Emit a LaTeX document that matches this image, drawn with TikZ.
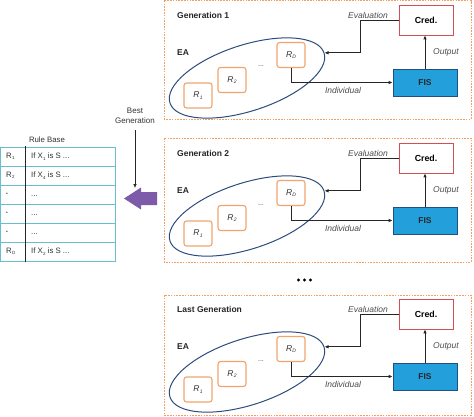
\documentclass[tikz,border=0pt]{standalone}
\usepackage{fontspec}
\setmainfont{Liberation Sans}
\usetikzlibrary{shapes.geometric,arrows.meta}
\definecolor{panelor}{RGB}{240,160,100}
\definecolor{boxor}{RGB}{240,165,110}
\definecolor{eablue}{RGB}{45,75,125}
\definecolor{credred}{RGB}{210,80,85}
\definecolor{fisblue}{RGB}{35,160,220}
\definecolor{fisborder}{RGB}{30,80,130}
\definecolor{tabteal}{RGB}{105,190,205}
\definecolor{arrpurple}{RGB}{125,90,170}
\newcommand\rsub[1]{\textit{R}\kern0.2pt\raisebox{-1.8pt}{\fontsize{5}{5}\selectfont\textit{#1}}}
\newcommand\usub[1]{\kern0.2pt\raisebox{-1.6pt}{\fontsize{4.5}{5}\selectfont #1}}
\begin{document}
\begin{tikzpicture}[x=1pt,y=1pt,
  panel/.style={draw=panelor, dash pattern=on 1.6pt off 1.2pt, line width=0.9pt},
  rbox/.style={draw=boxor, line width=1.1pt, rounded corners=2.5pt, fill=white, minimum width=28pt, minimum height=25pt, inner sep=0, font=\fontsize{8.5}{9}\selectfont, text=black!80},
  credbox/.style={draw=credred, line width=0.8pt, fill=white, minimum width=54pt, minimum height=30pt, font=\bfseries\fontsize{8.8}{10}\selectfont},
  fisbox/.style={draw=fisborder, fill=fisblue, line width=0.8pt, minimum width=64pt, minimum height=27pt, font=\bfseries\fontsize{8.5}{10}\selectfont, text=black!85},
  arr/.style={-{Latex[length=4pt,width=3.6pt]}, line width=0.9pt, draw=black!85},
  lab/.style={font=\itshape\fontsize{8.5}{9}\selectfont, text=black!70, inner sep=0},
  ttl/.style={font=\bfseries\fontsize{8.5}{10}\selectfont, anchor=west, inner sep=0, text=black!85},
  tab/.style={font=\fontsize{7.8}{9}\selectfont, anchor=west, inner sep=0, text=black!80}]
\useasboundingbox (0,0) rectangle (474,-417);
\fill[white] (0,0) rectangle (474,-417);

\foreach \b/\ya/\yb/\g in {0/0.8/119/Generation 1,138/138/262/Generation 2,294/295/415/Last Generation}{
  \draw[panel] (164,{-(\ya)}) rectangle (471,{-(\yb)});
  \node[ttl] (gen\b) at (177,{-(\b+15)}) {\g};
  \node[ttl] (ealab\b) at (177,{-(\b+53)}) {EA};
  \node[draw=eablue, line width=1pt, ellipse, minimum width=162pt, minimum height=66pt, rotate=18, inner sep=0] (ea\b) at (247,{-(\b+78)}) {};
  \node[rbox] (ra\b) at (198,{-(\b+95.5)}) {\rsub{1}};
  \node[rbox] (rb\b) at (232,{-(\b+80)}) {\rsub{2}};
  \node[rbox] (rd\b) at (291,{-(\b+55)}) {\rsub{D}};
  \node[font=\fontsize{7}{8}\selectfont, text=black!70, anchor=base] (dots\b) at (261,{-(\b+67)}) {...};
  \node[credbox] (cred\b) at (426,{-(\b+20)}) {Cred.};
  \node[fisbox] (fis\b) at (425,{-(\b+82.5)}) {FIS};
  \draw[arr] (cred\b.west) -- ++(-38,0) |- (ea\b.east);
  \draw[arr] (rd\b.south) |- (fis\b.west);
  \draw[arr] (fis\b.north) -- (fis\b.north |- cred\b.south);
  \node[lab] (ev\b) at (368,{-(\b+15)}) {Evaluation};
  \node[lab] (ind\b) at (343,{-(\b+90)}) {Individual};
  \node[lab] (out\b) at (446,{-(\b+52)}) {Output};
}

% dots between panels
\fill[black] (298.5,-280) circle (1.7);
\fill[black] (304.5,-280) circle (1.7);
\fill[black] (310.5,-280) circle (1.7);

% best generation
\node[font=\fontsize{8}{10}\selectfont, align=center, inner sep=0, text=black!80] (bg) at (135,-116) {Best\\Generation};
\coordinate (bgend) at (135,-188);
\draw[arr, line width=0.7pt, shorten <=6pt] (bg.south) -- (bgend);
\fill[arrpurple] (124,-198.5) -- (141,-187.5) -- (141,-192) -- (157,-192) -- (157,-205) -- (141,-205) -- (141,-209.5) -- cycle;

% rule base table
\node[font=\fontsize{7.8}{9}\selectfont, text=black!80, inner sep=0] (rbt) at (47,-140) {Rule Base};
\draw[tabteal, line width=0.8pt] (0.5,-147) rectangle (115,-261);
\foreach \i in {1,...,5}{
  \draw[tabteal, line width=0.8pt] (0.5,{-147-19*\i}) -- (115,{-147-19*\i});
}
\draw[black!85, line width=0.9pt] (25,-146) -- (25,-262);
\node[tab] (la) at (6,-156.5) {R\usub{1}};
\node[tab] (lb) at (6,-175.5) {R\usub{2}};
\node[tab] (lc) at (6,-194.5) {\fontsize{5}{5}\selectfont\textbullet};
\node[tab] (ld) at (6,-213.5) {\fontsize{5}{5}\selectfont\textbullet};
\node[tab] (le) at (6,-232.5) {\fontsize{5}{5}\selectfont\textbullet};
\node[tab] (lf) at (6,-251.5) {R\usub{D}};
\node[tab] (ta) at (31,-156.5) {If X\usub{1} is S ...};
\node[tab] (tb) at (31,-175.5) {If X\usub{4} is S ...};
\node[tab] (tc) at (31,-196) {...};
\node[tab] (td) at (31,-215) {...};
\node[tab] (te) at (31,-234) {...};
\node[tab] (tf) at (31,-251.5) {If X\usub{2} is S ...};
\end{tikzpicture}
\end{document}
